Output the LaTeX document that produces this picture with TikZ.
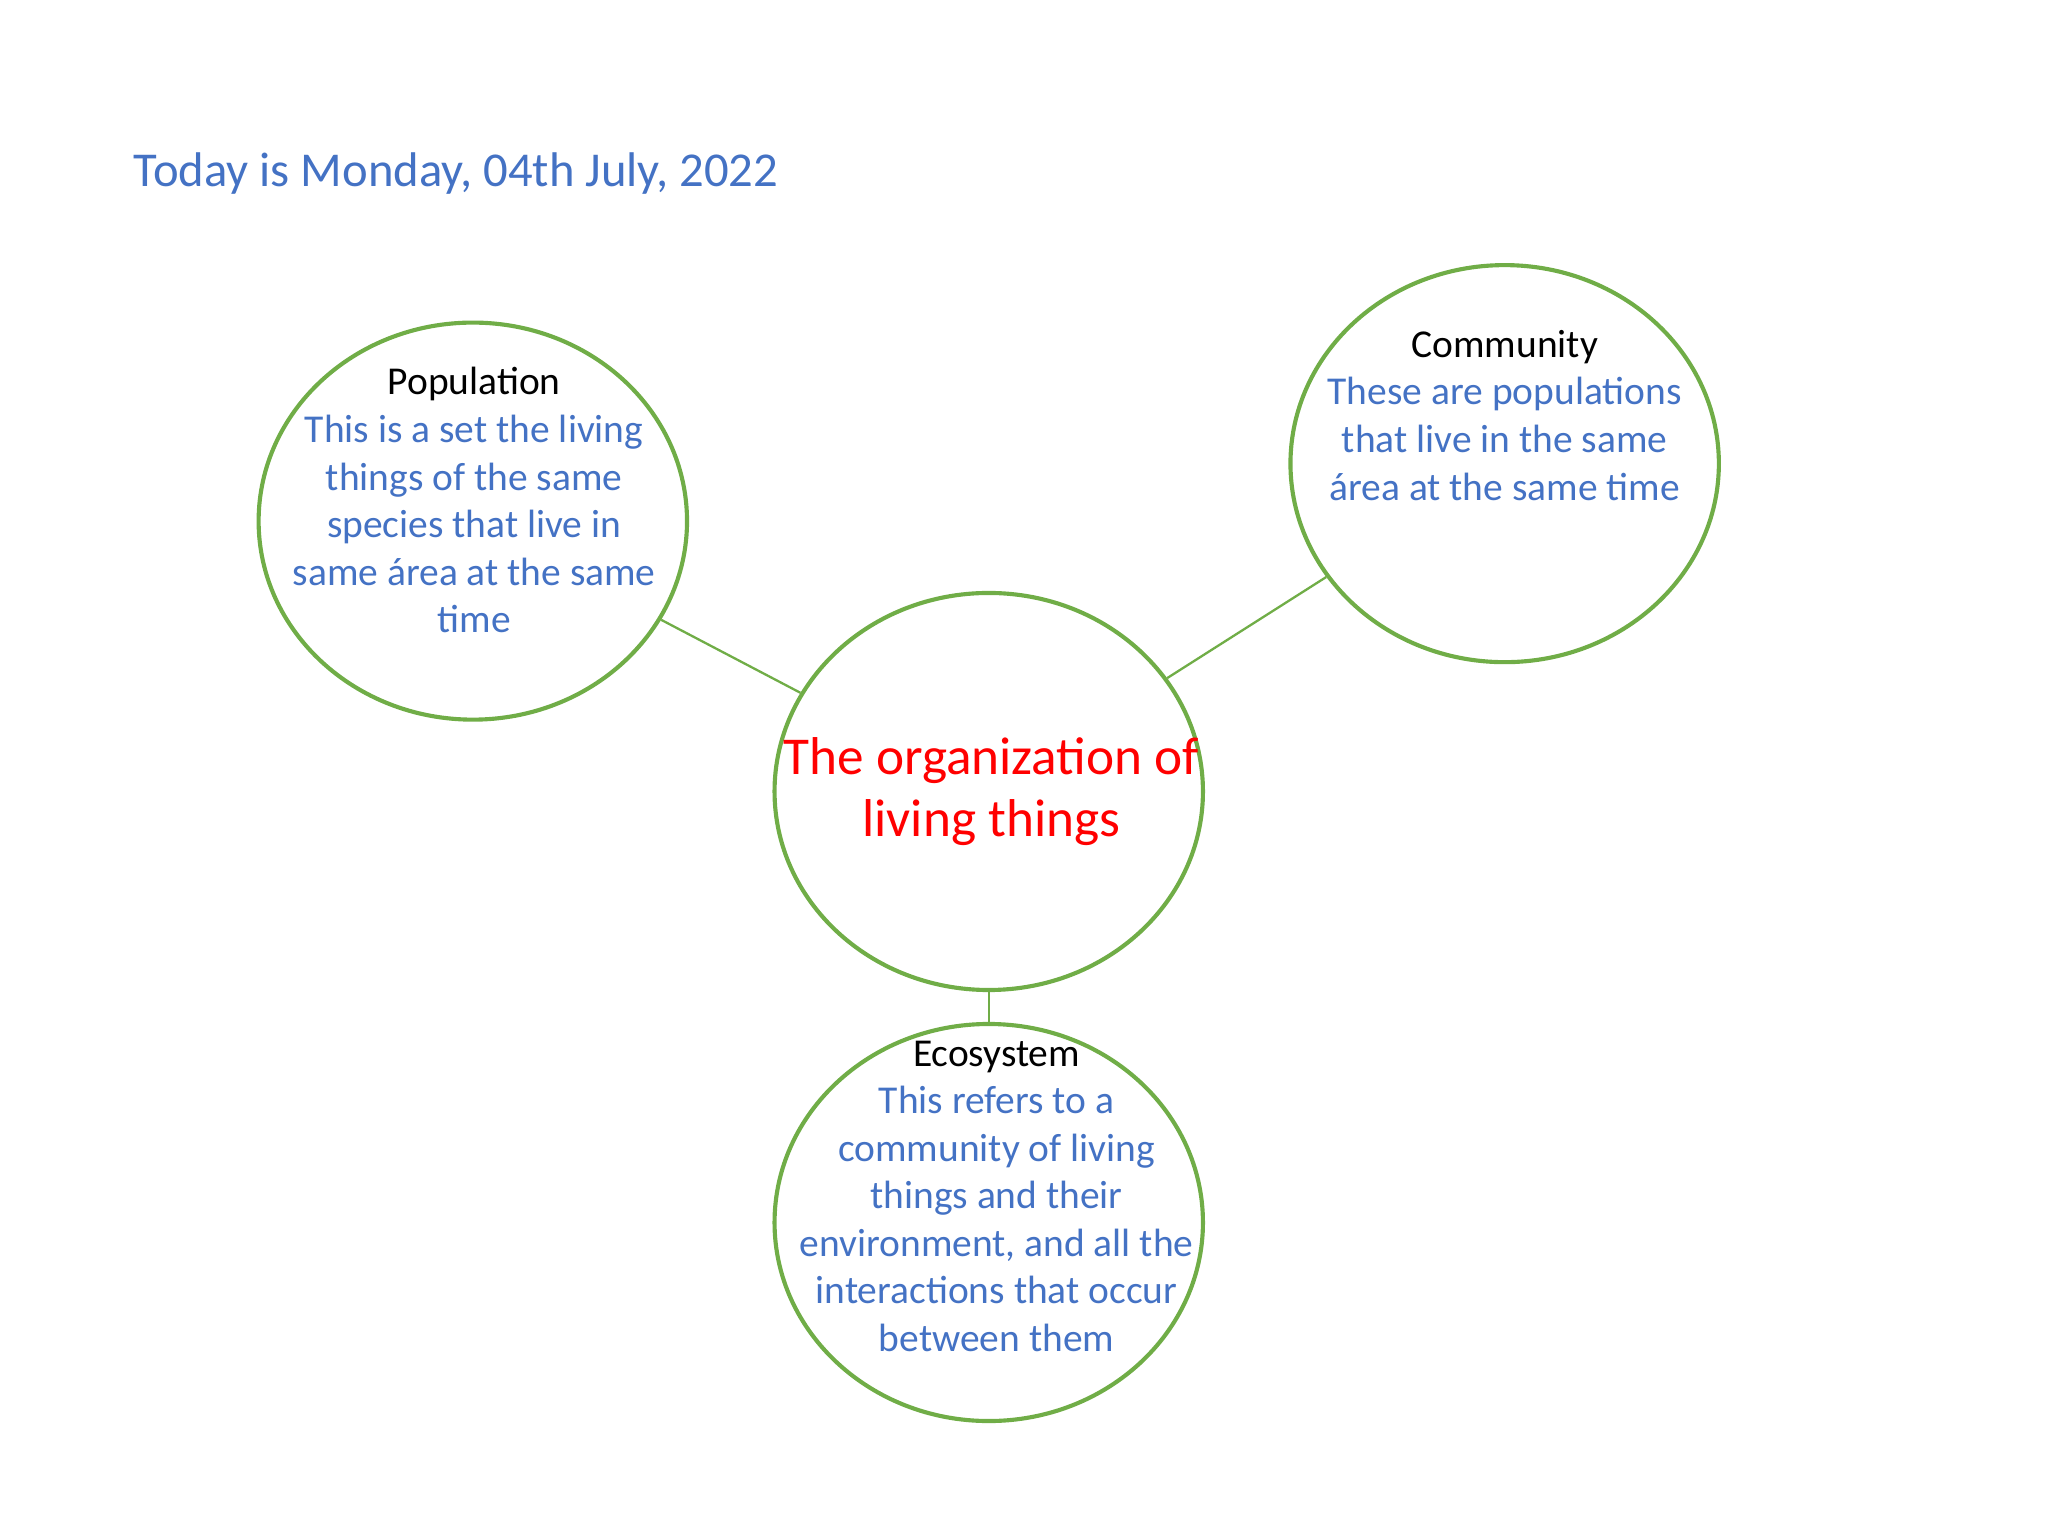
\documentclass[tikz,border=0pt]{standalone}
\usepackage{fontspec}
\setmainfont{Carlito}
\usetikzlibrary{shapes.geometric}
\definecolor{tblue}{HTML}{4472C4}
\definecolor{tgreen}{HTML}{70AD47}
\definecolor{tred}{HTML}{FF0000}
\tikzset{
 bubble/.style={ellipse,draw=tgreen,line width=0.9pt,minimum width=3.28cm,minimum height=3.04cm,inner sep=0pt},
 link/.style={draw=tgreen,line width=0.5pt},
 body/.style={align=center,font=\fontsize{8.6pt}{10.35pt}\selectfont,text=tblue},
}
\begin{document}
\begin{tikzpicture}[x=1cm,y=1cm]
\useasboundingbox (0,0) rectangle (15.68,11.76);
\node[anchor=west,text=tblue,font=\fontsize{10.6pt}{12pt}\selectfont] (title) at (0.9,10.43) {Today is Monday, 04th July, 2022};
\node[bubble] (pop) at (3.62,7.77) {};
\node[bubble] (com) at (11.52,8.21) {};
\node[bubble] (org) at (7.57,5.70) {};
\node[bubble] (eco) at (7.57,2.40) {};
\draw[link] (pop) -- (org);
\draw[link] (com) -- (org);
\draw[link] (org) -- (eco);
\node[body] (popt) at (3.63,7.93) {\textcolor{black}{Population}\\This is a set the living\\things of the same\\species that live in\\same área at the same\\time};
\node[body] (comt) at (11.52,8.58) {\textcolor{black}{Community}\\These are populations\\that live in the same\\área at the same time};
\node[body] (ecot) at (7.63,2.60) {\textcolor{black}{Ecosystem}\\This refers to a\\community of living\\things and their\\environment, and all the\\interactions that occur\\between them};
\node[align=center,text=tred,font=\fontsize{11.6pt}{13.4pt}\selectfont] (orgt) at (7.59,5.70) {The organization of\\living things};
\end{tikzpicture}
\end{document}
